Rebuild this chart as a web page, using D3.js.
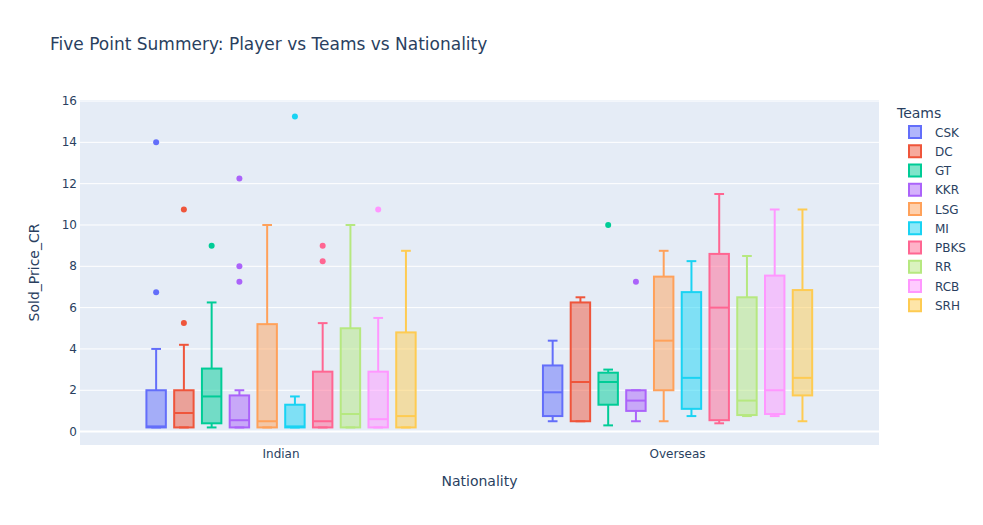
<!DOCTYPE html>
<html lang="en">
<head>
    <meta charset="UTF-8">
    <title>Five Point Summery</title>
    <style>
        body { margin: 0; background: #fff; }
        svg text { font-family: "DejaVu Sans", verdana, arial, sans-serif; fill: #2a3f5f; }
    </style>
</head>
<body>
    <svg id="chart" width="983" height="525"></svg>

    <script src="https://d3js.org/d3.v7.min.js"></script>
    <script>
        // data
        const nationalities = ["Indian", "Overseas"];
        const teams = ["CSK", "DC", "GT", "KKR", "LSG", "MI", "PBKS", "RR", "RCB", "SRH"];
        const colors = ["#636efa", "#EF553B", "#00cc96", "#ab63fa", "#FFA15A",
                        "#19d3f3", "#FF6692", "#B6E880", "#FF97FF", "#FECB52"];
        const yTicks = [0, 2, 4, 6, 8, 10, 12, 14, 16];

        // Indian players, one value per team
        const indianMin    = [0.2, 0.2, 0.2, 0.2, 0.2, 0.2, 0.2, 0.2, 0.2, 0.2];
        const indianQ1     = [0.2, 0.2, 0.4, 0.2, 0.2, 0.2, 0.2, 0.2, 0.2, 0.2];
        const indianMedian = [0.25, 0.9, 1.7, 0.55, 0.5, 0.25, 0.5, 0.85, 0.6, 0.75];
        const indianQ3     = [2.0, 2.0, 3.05, 1.75, 5.2, 1.3, 2.9, 5.0, 2.9, 4.8];
        const indianMax    = [4.0, 4.2, 6.25, 2.0, 10.0, 1.7, 5.25, 10.0, 5.5, 8.75];
        const indianOutliers = [[14, 6.75], [10.75, 5.25], [9], [12.25, 8, 7.25], [],
                                [15.25], [9, 8.25], [], [10.75], []];

        // Overseas players
        const overseasMin    = [0.5, 0.5, 0.3, 0.5, 0.5, 0.75, 0.4, 0.75, 0.75, 0.5];
        const overseasQ1     = [0.75, 0.5, 1.3, 1.0, 2.0, 1.1, 0.55, 0.8, 0.85, 1.75];
        const overseasMedian = [1.9, 2.4, 2.4, 1.5, 4.4, 2.6, 6.0, 1.5, 2.0, 2.6];
        const overseasQ3     = [3.2, 6.25, 2.85, 2.0, 7.5, 6.75, 8.6, 6.5, 7.55, 6.85];
        const overseasMax    = [4.4, 6.5, 3.0, 2.0, 8.75, 8.25, 11.5, 8.5, 10.75, 10.75];
        const overseasOutliers = [[], [], [10], [7.25], [], [], [], [], [], []];

        const stats = {
            Indian:   { min: indianMin, q1: indianQ1, med: indianMedian, q3: indianQ3, max: indianMax, out: indianOutliers },
            Overseas: { min: overseasMin, q1: overseasQ1, med: overseasMedian, q3: overseasQ3, max: overseasMax, out: overseasOutliers }
        };

        const boxes = [];
        nationalities.forEach((nat, ni) => {
            teams.forEach((team, ti) => {
                const s = stats[nat];
                boxes.push({
                    nat: ni, team: team, color: colors[ti],
                    min: s.min[ti], q1: s.q1[ti], med: s.med[ti], q3: s.q3[ti], max: s.max[ti],
                    out: s.out[ti]
                });
            });
        });

        const svg = d3.select("#chart");
        const plotLeft = 80, plotRight = 879, plotTop = 100, plotBottom = 445;

        const x = d3.scaleLinear().domain([-0.507, 1.508]).range([plotLeft, plotRight]);
        const y = d3.scaleLinear().domain([-0.65, 16.05]).range([plotBottom, plotTop]);

        // team slots inside each nationality group
        const inner = d3.scaleBand()
            .domain(teams)
            .range([x(-0.35) - x(0), x(0.35) - x(0)])
            .paddingInner(0.3)
            .paddingOuter(0.15);
        const bw = inner.bandwidth();

        // plot background + grid
        svg.append("rect")
            .attr("x", plotLeft).attr("y", plotTop)
            .attr("width", plotRight - plotLeft).attr("height", plotBottom - plotTop)
            .attr("fill", "#e5ecf6");

        svg.append("g").selectAll("line")
            .data(yTicks)
            .join("line")
            .attr("x1", plotLeft).attr("x2", plotRight)
            .attr("y1", d => y(d)).attr("y2", d => y(d))
            .attr("stroke", "#fff")
            .attr("stroke-width", d => d === 0 ? 2 : 1);

        // y tick labels
        svg.append("g").selectAll("text")
            .data(yTicks)
            .join("text")
            .attr("x", plotLeft - 3)
            .attr("y", d => y(d) + 4)
            .attr("text-anchor", "end")
            .style("font-size", "12px")
            .text(d => d);

        // x tick labels
        svg.append("g").selectAll("text")
            .data(nationalities)
            .join("text")
            .attr("x", (d, i) => x(i))
            .attr("y", 458)
            .attr("text-anchor", "middle")
            .style("font-size", "12px")
            .text(d => d);

        // boxes
        const g = svg.append("g");
        const box = g.selectAll("g.box")
            .data(boxes)
            .join("g")
            .attr("class", "box")
            .attr("transform", d => `translate(${x(d.nat) + inner(d.team) + bw / 2},0)`);

        box.append("line")
            .attr("x1", 0).attr("x2", 0)
            .attr("y1", d => y(d.max)).attr("y2", d => y(d.q3))
            .attr("stroke", d => d.color).attr("stroke-width", 2);
        box.append("line")
            .attr("x1", 0).attr("x2", 0)
            .attr("y1", d => y(d.q1)).attr("y2", d => y(d.min))
            .attr("stroke", d => d.color).attr("stroke-width", 2);
        box.append("line")
            .attr("x1", -bw / 4).attr("x2", bw / 4)
            .attr("y1", d => y(d.max)).attr("y2", d => y(d.max))
            .attr("stroke", d => d.color).attr("stroke-width", 2);
        box.append("line")
            .attr("x1", -bw / 4).attr("x2", bw / 4)
            .attr("y1", d => y(d.min)).attr("y2", d => y(d.min))
            .attr("stroke", d => d.color).attr("stroke-width", 2);
        box.append("rect")
            .attr("x", -bw / 2).attr("width", bw)
            .attr("y", d => y(d.q3))
            .attr("height", d => y(d.q1) - y(d.q3))
            .attr("fill", d => d.color).attr("fill-opacity", 0.5)
            .attr("stroke", d => d.color).attr("stroke-width", 2);
        box.append("line")
            .attr("x1", -bw / 2).attr("x2", bw / 2)
            .attr("y1", d => y(d.med)).attr("y2", d => y(d.med))
            .attr("stroke", d => d.color).attr("stroke-width", 2);

        box.selectAll("circle")
            .data(d => d.out.map(v => ({ v: v, color: d.color })))
            .join("circle")
            .attr("cx", 0)
            .attr("cy", d => y(d.v))
            .attr("r", 3)
            .attr("fill", d => d.color);

        // titles
        svg.append("text")
            .attr("x", 50).attr("y", 50)
            .style("font-size", "17px")
            .text("Five Point Summery: Player vs Teams vs Nationality");

        svg.append("text")
            .attr("x", (plotLeft + plotRight) / 2).attr("y", 486)
            .attr("text-anchor", "middle")
            .style("font-size", "14px")
            .text("Nationality");

        svg.append("text")
            .attr("transform", `translate(39,${(plotTop + plotBottom) / 2}) rotate(-90)`)
            .attr("text-anchor", "middle")
            .style("font-size", "14px")
            .text("Sold_Price_CR");

        // legend
        const legend = svg.append("g").attr("transform", "translate(897,0)");
        legend.append("text")
            .attr("x", 0).attr("y", 118)
            .style("font-size", "14px")
            .text("Teams");

        const item = legend.selectAll("g.item")
            .data(teams)
            .join("g")
            .attr("class", "item")
            .attr("transform", (d, i) => `translate(0,${132 + i * 19.25})`);
        item.append("rect")
            .attr("x", 12).attr("y", -6)
            .attr("width", 12).attr("height", 12)
            .attr("fill", (d, i) => colors[i]).attr("fill-opacity", 0.5)
            .attr("stroke", (d, i) => colors[i]).attr("stroke-width", 2);
        item.append("text")
            .attr("x", 38).attr("y", 4.5)
            .style("font-size", "12px")
            .text(d => d);
    </script>
</body>
</html>
